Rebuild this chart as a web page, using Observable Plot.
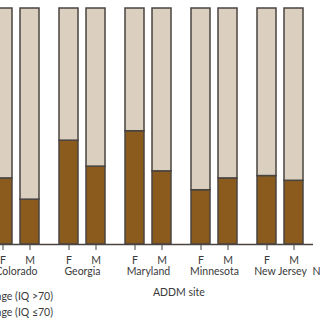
<!DOCTYPE html>
<html>
<head>
<meta charset="utf-8">
<script src="https://cdn.jsdelivr.net/npm/d3@7"></script>
<script src="https://cdn.jsdelivr.net/npm/@observablehq/plot@0.6"></script>
<style>
  html, body { margin: 0; padding: 0; background: #fff; }
  #wrap { position: relative; width: 320px; height: 320px; overflow: hidden; font-family: Lato, "Open Sans", sans-serif; color: #3a3a3a; }
  #chart { position: absolute; left: -18.75px; top: 0; width: 399px; }
  #chart svg { max-width: none !important; width: 399px; height: 320px; }
  .lbl { position: absolute; font-size: 10.5px; white-space: nowrap; line-height: 1; }
</style>
</head>
<body>
<div id="wrap">
  <div id="chart"></div>
  <div class="lbl" id="xlabel" style="left:153px; top:287px;">ADDM site</div>
  <div class="lbl" style="right:267px; top:291px; text-align:right;">Average or above average range (IQ &gt;70)</div>
  <div class="lbl" style="right:267px; top:306.5px; text-align:right;">Intellectual disability range (IQ ≤70)</div>
</div>
<script>
// ADDM sites on the axis (the last one is only partly visible)
const siteDomain = ["Colorado", "Georgia", "Maryland", "Minnesota", "New Jersey", "North Carolina"];
const sexDomain = ["F", "M"];
const groupDomain = ["IQ ≤70", "IQ >70"];

// Visible bars
const barSite = ["Colorado", "Colorado", "Georgia", "Georgia", "Maryland", "Maryland", "Minnesota", "Minnesota", "New Jersey", "New Jersey"];
const barSex = ["F", "M", "F", "M", "F", "M", "F", "M", "F", "M"];
const pctIQle70 = [28, 19, 44, 33, 48, 31, 23, 28, 29, 27];
const pctIQgt70 = [72, 81, 56, 67, 52, 69, 77, 72, 71, 73];

const rows = [];
barSite.forEach((s, i) => {
  rows.push({site: s, sex: barSex[i], group: groupDomain[0], value: pctIQle70[i]});
  rows.push({site: s, sex: barSex[i], group: groupDomain[1], value: pctIQgt70[i]});
});

const ink = "#4a4441";
const chart = Plot.plot({
  width: 399,
  height: 320,
  marginTop: 8,
  marginBottom: 76,
  marginLeft: 0,
  marginRight: 0,
  style: {fontFamily: "Lato, 'Open Sans', sans-serif", fontSize: "10.5px", color: "#3a3a3a", background: "transparent", maxWidth: "none"},
  fx: {domain: siteDomain, padding: 0, label: null},
  x: {domain: sexDomain, paddingInner: 0.304, paddingOuter: 0.339, label: null},
  y: {domain: [0, 100], axis: null},
  color: {domain: groupDomain, range: ["#8b5a1d", "#dbcfbf"]},
  marks: [
    Plot.barY(rows, {fx: "site", x: "sex", y: "value", fill: "group", stroke: ink, strokeWidth: 1.5}),
    Plot.ruleY([0], {stroke: ink, strokeWidth: 1.3}),
    Plot.axisX({anchor: "bottom", tickSize: 6, tickPadding: 6, label: null, stroke: ink}),
    Plot.axisFx({anchor: "bottom", tickSize: 0, tickPadding: 23, label: null})
  ]
});
document.getElementById("chart").appendChild(chart);
</script>
</body>
</html>
